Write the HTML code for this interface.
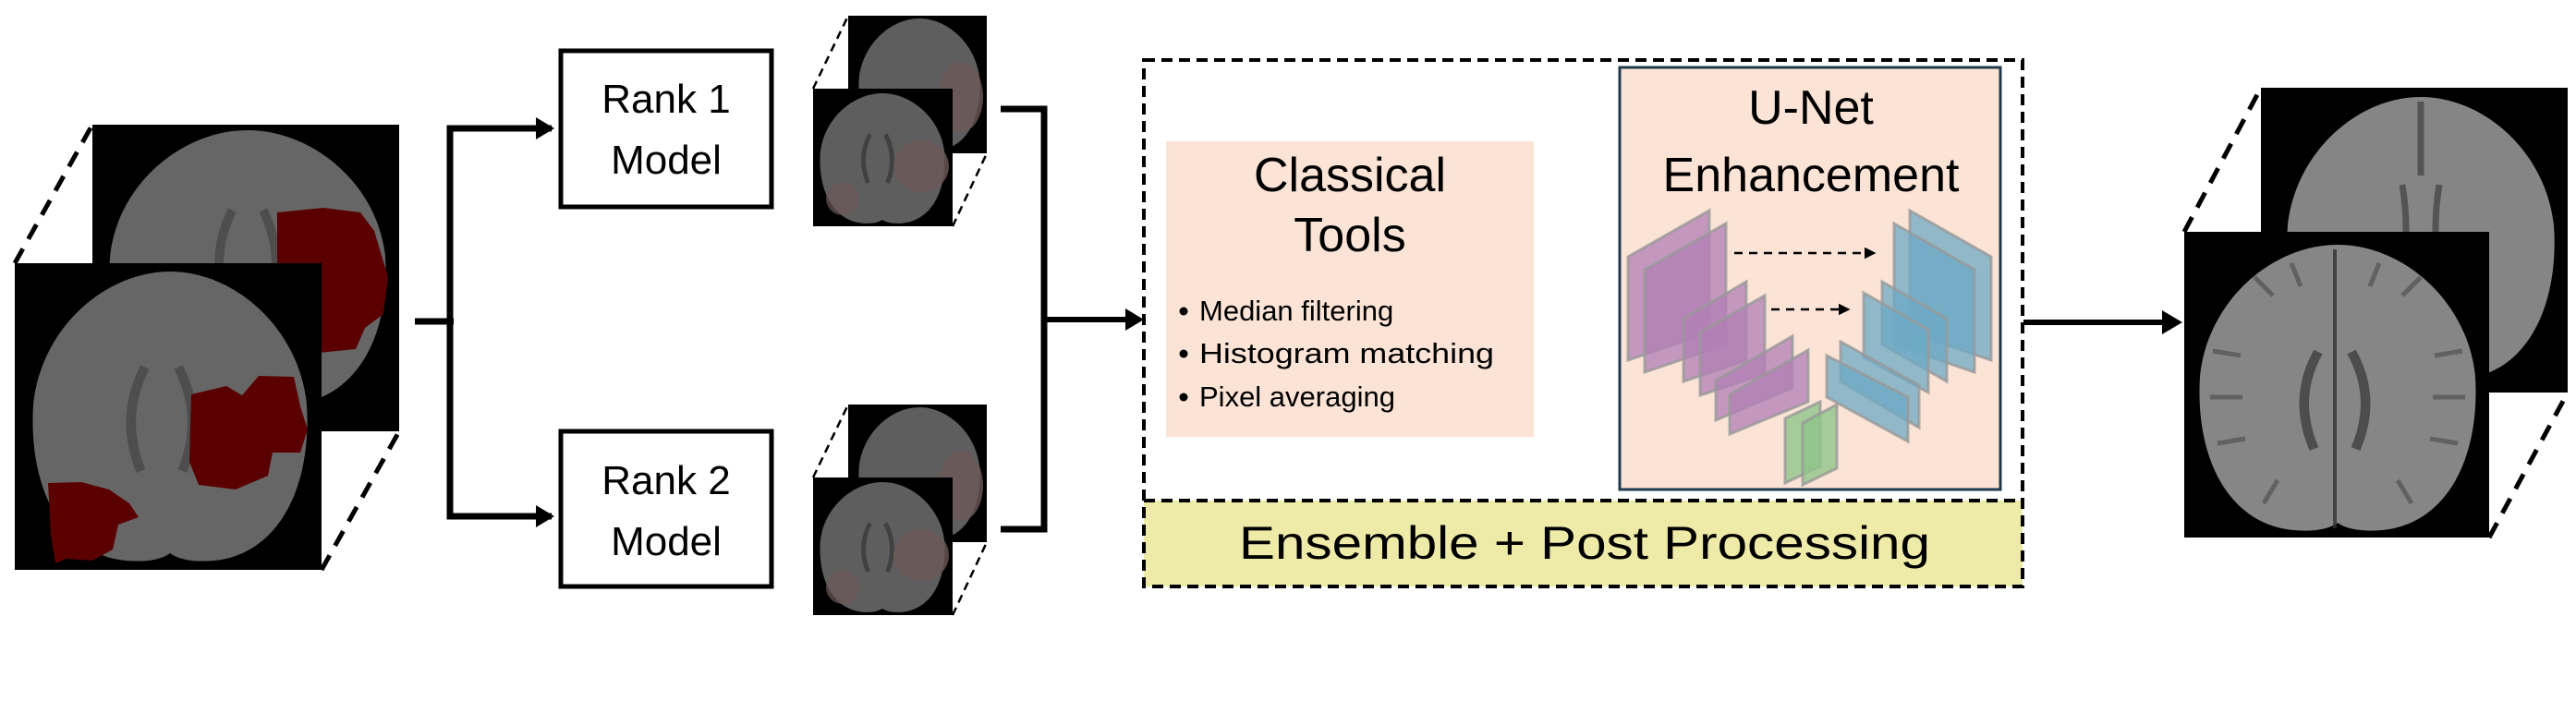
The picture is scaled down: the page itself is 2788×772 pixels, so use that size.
<!DOCTYPE html>
<html><head><meta charset="utf-8"><style>html,body{margin:0;padding:0;background:#fff}svg{display:block}</style></head>
<body>
<svg width="2788" height="772" viewBox="0 0 2788 772" xmlns="http://www.w3.org/2000/svg" font-family="Liberation Sans, sans-serif">
<defs>
<marker id="sa" markerWidth="5" markerHeight="5" refX="4" refY="2.5" orient="auto" markerUnits="strokeWidth"><path d="M0,0 L5,2.5 L0,5 z" fill="#000"/></marker>
<path id="bshape" d="M0,-1 C0.45,-1 0.9,-0.62 0.96,-0.1 C1.0,0.45 0.78,0.93 0.32,0.98 Q0.1,1.0 0,0.93 Q-0.1,1.0 -0.32,0.98 C-0.78,0.93 -1.0,0.45 -0.96,-0.1 C-0.9,-0.62 -0.45,-1 0,-1 Z"/>
<g id="vent">
<path d="M-0.12,-0.35 C-0.25,-0.1 -0.25,0.15 -0.15,0.4 M0.12,-0.35 C0.25,-0.1 0.25,0.15 0.15,0.4" stroke-width="0.07" fill="none"/>
</g>
</defs>

<!-- LEFT input stack -->
<line x1="16" y1="285" x2="100" y2="135" stroke="#000" stroke-width="5" stroke-dasharray="18,12"/>
<line x1="348" y1="617" x2="432" y2="467" stroke="#000" stroke-width="5" stroke-dasharray="18,12"/>
<rect x="100" y="135" width="332" height="332" fill="#000"/>
<use href="#bshape" transform="translate(268,291) scale(155,150)" fill="#666"/>
<use href="#vent" transform="translate(268,280) scale(140,150)" stroke="#444" opacity="0.7"/>
<path d="M300,230 L350,225 L390,230 L405,250 L420,300 L415,340 L395,355 L385,378 L345,382 L330,360 L300,330 Z" fill="#5a0000"/>
<rect x="16" y="285" width="332" height="332" fill="#000"/>
<use href="#bshape" transform="translate(184,452) scale(154,158)" fill="#666"/>
<use href="#vent" transform="translate(175,450) scale(150,150)" stroke="#444" opacity="0.7"/>
<path d="M207,427 L245,418 L262,428 L280,407 L318,408 L325,440 L333,465 L325,490 L295,490 L290,515 L255,530 L215,525 L205,500 Z" fill="#5a0000"/>
<path d="M52,523 L88,522 L118,530 L140,545 L150,560 L128,568 L122,595 L100,607 L72,605 L60,610 L55,580 Z" fill="#5a0000"/>

<!-- connectors from input -->
<line x1="449" y1="348" x2="491" y2="348" stroke="#000" stroke-width="7"/>
<polyline points="597,139 487,139 487,559 597,559" fill="none" stroke="#000" stroke-width="7"/>
<path d="M580,127 L600,139 L580,151 z" fill="#000"/>
<path d="M580,547 L600,559 L580,571 z" fill="#000"/>

<!-- Rank boxes -->
<rect x="607" y="55" width="228" height="169" fill="#fff" stroke="#000" stroke-width="5"/>
<text x="721" y="122" font-size="44" text-anchor="middle">Rank 1</text>
<text x="721" y="188" font-size="44" text-anchor="middle">Model</text>
<rect x="607" y="467" width="228" height="168" fill="#fff" stroke="#000" stroke-width="5"/>
<text x="721" y="535" font-size="44" text-anchor="middle">Rank 2</text>
<text x="721" y="601" font-size="44" text-anchor="middle">Model</text>

<!-- small stacks -->
<g id="small">
<line x1="880" y1="96" x2="918" y2="17" stroke="#000" stroke-width="2.5" stroke-dasharray="9,6"/>
<line x1="1031" y1="245" x2="1068" y2="166" stroke="#000" stroke-width="2.5" stroke-dasharray="9,6"/>
<rect x="918" y="17" width="150" height="149" fill="#000"/>
<use href="#bshape" transform="translate(995,92) scale(68,72)" fill="#5e5e5e"/>
<ellipse cx="1040" cy="105" rx="24" ry="38" fill="#6c5858" opacity="0.8"/>
<rect x="880" y="96" width="151" height="149" fill="#000"/>
<use href="#bshape" transform="translate(955,172) scale(70,71)" fill="#5e5e5e"/>
<use href="#vent" transform="translate(950,170) scale(70,70)" stroke="#3a3a3a" opacity="0.8"/>
<ellipse cx="997" cy="180" rx="30" ry="28" fill="#6c5858" opacity="0.8"/>
<ellipse cx="912" cy="215" rx="18" ry="18" fill="#6c5858" opacity="0.7"/>
</g>
<use href="#small" transform="translate(0,421)"/>

<!-- bracket to ensemble -->
<polyline points="1083,118 1130,118 1130,573 1083,573" fill="none" stroke="#000" stroke-width="7"/>
<line x1="1130" y1="346" x2="1225" y2="346" stroke="#000" stroke-width="6"/>
<path d="M1218,334 L1238,346 L1218,358 z" fill="#000"/>

<!-- Ensemble dashed box -->
<rect x="1238" y="542" width="951" height="93" fill="#eeeaa8"/>
<rect x="1238" y="65" width="951" height="570" fill="none" stroke="#000" stroke-width="4" stroke-dasharray="12,7"/>
<line x1="1238" y1="542" x2="2189" y2="542" stroke="#000" stroke-width="4" stroke-dasharray="12,7"/>
<text x="1715" y="605" font-size="50" text-anchor="middle" textLength="748" lengthAdjust="spacingAndGlyphs">Ensemble + Post Processing</text>

<!-- Classical tools -->
<rect x="1262" y="153" width="398" height="320" fill="#fbe3d6"/>
<text x="1461" y="207" font-size="52" text-anchor="middle">Classical</text>
<text x="1461" y="272" font-size="52" text-anchor="middle">Tools</text>
<g font-size="31">
<circle cx="1281" cy="337" r="4.5"/><text x="1298" y="347">Median filtering</text>
<circle cx="1281" cy="383" r="4.5"/><text x="1298" y="393" textLength="319" lengthAdjust="spacingAndGlyphs">Histogram matching</text>
<circle cx="1281" cy="430" r="4.5"/><text x="1298" y="440">Pixel averaging</text>
</g>

<!-- U-Net box -->
<rect x="1753" y="73" width="412" height="457" fill="#fbe3d6" stroke="#1f3a4d" stroke-width="3"/>
<text x="1960" y="134" font-size="52" text-anchor="middle">U-Net</text>
<text x="1960" y="207" font-size="52" text-anchor="middle">Enhancement</text>
<g stroke="#999" stroke-width="3" stroke-opacity="0.8">
<g fill="#b27fb6" fill-opacity="0.75">
<path d="M1762,278 L1850,228 L1850,360 L1762,390 z"/>
<path d="M1780,292 L1868,242 L1868,373 L1780,403 z"/>
<path d="M1822,345 L1890,305 L1890,390 L1822,413 z"/>
<path d="M1840,360 L1910,320 L1910,405 L1840,428 z"/>
<path d="M1857,412 L1940,364 L1940,420 L1857,455 z"/>
<path d="M1872,427 L1957,379 L1957,435 L1872,470 z"/>
</g>
<g fill="#8ec48a" fill-opacity="0.8">
<path d="M1932,453 L1970,435 L1970,505 L1932,523 z"/>
<path d="M1951,458 L1988,438 L1988,507 L1951,525 z"/>
</g>
<g fill="#6ea9c4" fill-opacity="0.75">
<path d="M2067,228 L2155,278 L2155,390 L2067,360 z"/>
<path d="M2050,242 L2137,292 L2137,403 L2050,373 z"/>
<path d="M2037,305 L2107,345 L2107,413 L2037,373 z"/>
<path d="M2017,317 L2087,357 L2087,425 L2017,387 z"/>
<path d="M1992,370 L2077,417 L2077,463 L1992,413 z"/>
<path d="M1977,385 L2065,430 L2065,478 L1977,430 z"/>
</g>
</g>
<line x1="1877" y1="274" x2="2028" y2="274" stroke="#000" stroke-width="2.5" stroke-dasharray="9,7" marker-end="url(#sa)"/>
<line x1="1917" y1="335" x2="2000" y2="335" stroke="#000" stroke-width="2.5" stroke-dasharray="9,7" marker-end="url(#sa)"/>

<!-- output arrow -->
<line x1="2190" y1="349" x2="2345" y2="349" stroke="#000" stroke-width="6"/>
<path d="M2340,336 L2362,349 L2340,362 z" fill="#000"/>

<!-- Output stack -->
<line x1="2364" y1="251" x2="2447" y2="95" stroke="#000" stroke-width="5" stroke-dasharray="18,12"/>
<line x1="2694" y1="582" x2="2779" y2="425" stroke="#000" stroke-width="5" stroke-dasharray="18,12"/>
<rect x="2447" y="95" width="332" height="330" fill="#000"/>
<use href="#bshape" transform="translate(2620,259) scale(150,154)" fill="#858585"/>
<path d="M2600,200 q10,60 -5,120 M2640,200 q-10,60 5,120 M2620,110 l0,80" stroke="#333" stroke-width="7" fill="none" opacity="0.6"/>
<rect x="2364" y="251" width="330" height="331" fill="#000"/>
<use href="#bshape" transform="translate(2530,421) scale(155,156)" fill="#868686"/>
<path d="M2527,270 L2527,572" stroke="#333" stroke-width="4" opacity="0.8"/>
<use href="#vent" transform="translate(2527,430) scale(150,140)" stroke="#3a3a3a" opacity="0.75"/>
<path d="M2395,380 l30,5 M2392,430 l35,0 M2400,480 l30,-5 M2665,380 l-30,5 M2668,430 l-35,0 M2660,480 l-30,-5 M2440,300 l20,20 M2620,300 l-20,20 M2450,545 l15,-25 M2610,545 l-15,-25 M2480,285 l10,25 M2575,285 l-10,25" stroke="#444" stroke-width="5" opacity="0.55"/>
</svg>
</body></html>
